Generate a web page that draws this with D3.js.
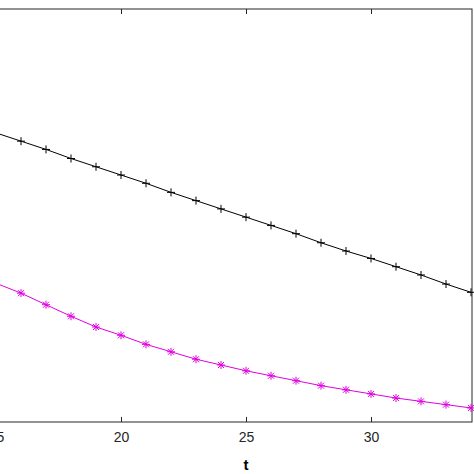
<!DOCTYPE html>
<html><head><meta charset="utf-8">
<script src="https://cdn.jsdelivr.net/npm/d3@7"></script>
<style>body{margin:0;background:#fff}</style></head>
<body><svg id="c" width="474" height="474"></svg>
<script>
var tValues = d3.range(15, 35);
var blackSeries = [35.0,34.0,33.0,31.9,30.9,29.9,28.9,27.8,26.8,25.8,24.8,23.8,22.8,21.7,20.7,19.8,18.8,17.8,16.7,15.7];
var magentaSeries = [16.8,15.6,14.2,12.8,11.5,10.5,9.4,8.5,7.6,6.9,6.2,5.6,5.0,4.4,3.9,3.4,2.9,2.5,2.1,1.7];
var xTicks = [15, 20, 25, 30];

var svg = d3.select("#c");
var x = d3.scaleLinear().domain([15, 34.04]).range([-4, 472]);
var y = d3.scaleLinear().domain([0, 50]).range([422, 9]);

// frame
svg.append("rect").attr("x", -10).attr("y", 9).attr("width", 482).attr("height", 413)
  .attr("fill", "none").attr("stroke", "#262626").attr("stroke-width", 1);

// bottom axis with inward ticks
var bottomAxis = svg.append("g").attr("transform", "translate(0,422)")
  .call(d3.axisBottom(x).tickValues(xTicks).tickSizeInner(-5).tickSizeOuter(0).tickPadding(10));
bottomAxis.select(".domain").remove();
bottomAxis.selectAll("text").attr("font-family", "Arial, Liberation Sans").attr("font-size", 14).attr("fill", "#262626");
var topAxis = svg.append("g").attr("transform", "translate(0,9)")
  .call(d3.axisTop(x).tickValues(xTicks).tickSizeInner(-5).tickSizeOuter(0).tickFormat(""));
topAxis.select(".domain").remove();
svg.selectAll(".tick line").attr("stroke", "#262626");

svg.append("text").attr("x", 246).attr("y", 470).attr("text-anchor", "middle")
  .attr("font-family", "Arial, Liberation Sans").attr("font-weight", "bold").attr("font-size", 15).text("t");

var line = d3.line().x(function(d, i) { return x(tValues[i]); }).y(function(d) { return y(d); });

svg.append("path").datum(blackSeries).attr("d", line).attr("fill", "none").attr("stroke", "#000").attr("stroke-width", 1);
svg.append("path").datum(magentaSeries).attr("d", line).attr("fill", "none").attr("stroke", "#e000e0").attr("stroke-width", 1);

svg.selectAll(".pm").data(blackSeries).enter().append("path")
  .attr("transform", function(d, i) { return "translate(" + x(tValues[i]) + "," + y(d) + ")"; })
  .attr("d", "M-4,0H4M0,-4V4").attr("stroke", "#000").attr("stroke-width", 1);
svg.selectAll(".sm").data(magentaSeries).enter().append("path")
  .attr("transform", function(d, i) { return "translate(" + x(tValues[i]) + "," + y(d) + ")"; })
  .attr("d", "M-4,0H4M0,-4V4M-3,-3L3,3M-3,3L3,-3").attr("stroke", "#e000e0").attr("stroke-width", 1);
</script></body></html>
